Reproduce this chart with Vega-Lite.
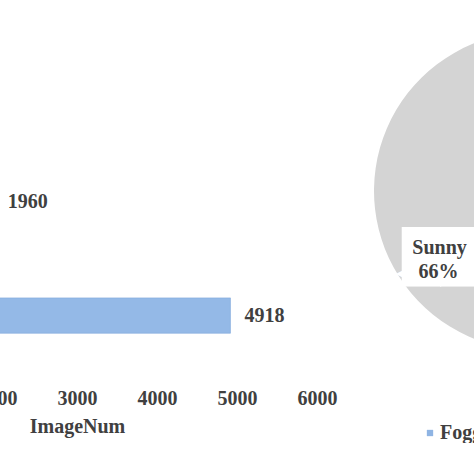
{
  "$schema": "https://vega.github.io/schema/vega-lite/v6.json",
  "padding": {"left": -168, "top": 20, "right": 0, "bottom": 0},
  "bounds": "flush",
  "spacing": 45,
  "data": {
    "values": [
      {"weather": "Foggy", "ImageNum": 573, "share": "8%"},
      {"weather": "Rainy", "ImageNum": 1960, "share": "26%"},
      {"weather": "Sunny", "ImageNum": 4918, "share": "66%"}
    ]
  },
  "config": {
    "view": {"stroke": null},
    "font": "Liberation Serif",
    "text": {"font": "Liberation Serif", "fontWeight": "bold", "fontSize": 20}
  },
  "hconcat": [
    {
      "width": 480,
      "height": 363,
      "encoding": {
        "y": {
          "field": "weather", "type": "nominal",
          "sort": ["Foggy", "Rainy", "Sunny"],
          "scale": {"paddingInner": 0.69, "paddingOuter": 0.436},
          "axis": null
        },
        "x": {
          "field": "ImageNum", "type": "quantitative",
          "scale": {"domain": [0, 6000], "nice": false},
          "axis": {
            "title": "ImageNum",
            "values": [0, 1000, 2000, 3000, 4000, 5000, 6000],
            "format": "d",
            "grid": false, "ticks": false, "domain": false,
            "labelFlush": false,
            "labelFont": "Liberation Serif", "labelFontSize": 20,
            "labelFontWeight": "bold", "labelColor": "#404040",
            "labelPadding": 5,
            "titleFont": "Liberation Serif", "titleFontSize": 20,
            "titleFontWeight": "bold", "titleColor": "#404040",
            "titlePadding": 8
          }
        }
      },
      "layer": [
        {"mark": {"type": "bar", "color": "#94b9e7", "stroke": "#7fa8dc", "strokeWidth": 0.6}},
        {
          "mark": {"type": "text", "align": "left", "dx": 14, "color": "#404040"},
          "encoding": {"text": {"field": "ImageNum", "type": "quantitative", "format": "d"}}
        }
      ]
    },
    {
      "width": 342,
      "height": 342,
      "encoding": {
        "theta": {"field": "ImageNum", "type": "quantitative", "stack": true},
        "order": {"field": "weather", "type": "ordinal"},
        "color": {
          "field": "weather", "type": "nominal",
          "scale": {"domain": ["Foggy", "Rainy", "Sunny"], "range": ["#8fb4e3", "#a6a6a6", "#d4d4d4"]},
          "legend": {
            "orient": "none", "legendX": 583, "legendY": 403,
            "direction": "horizontal", "title": null,
            "symbolType": "square", "symbolSize": 40,
            "labelFont": "Liberation Serif", "labelFontSize": 20,
            "labelFontWeight": "bold", "labelColor": "#404040",
            "labelOffset": 0, "columnPadding": 20
          }
        }
      },
      "layer": [
        {"mark": {"type": "arc", "radius": 159}},
        {
          "mark": {"type": "text", "radius": 110, "dx": 4, "dy": 15, "font": "DejaVu Sans", "fontWeight": "normal", "fontSize": 50, "baseline": "middle"},
          "encoding": {"text": {"value": "██"}, "color": {"value": "white"}}
        },
        {
          "mark": {"type": "text", "radius": 110, "dx": -35, "dy": 29, "font": "DejaVu Sans", "fontWeight": "normal", "fontSize": 15, "baseline": "middle"},
          "encoding": {"text": {"value": "◀"}, "color": {"value": "white"}}
        },
        {
          "mark": {"type": "text", "radius": 110, "dx": 3, "dy": 4, "baseline": "middle"},
          "encoding": {"text": {"field": "weather"}, "color": {"value": "#404040"}}
        },
        {
          "mark": {"type": "text", "radius": 110, "dx": 2, "dy": 28, "baseline": "middle"},
          "encoding": {"text": {"field": "share"}, "color": {"value": "#404040"}}
        }
      ]
    }
  ]
}
